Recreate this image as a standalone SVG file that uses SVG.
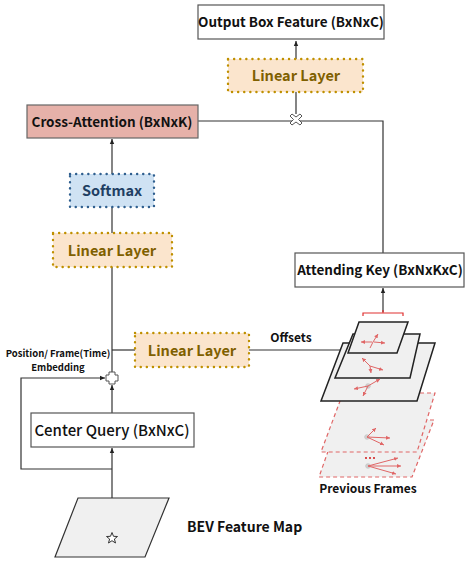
<svg xmlns="http://www.w3.org/2000/svg" width="474" height="561" viewBox="0 0 474 561">
<defs>
<marker id="ah" markerWidth="6" markerHeight="6" refX="5" refY="3" orient="auto" markerUnits="userSpaceOnUse">
<path d="M0,0.8 L5,3 L0,5.2 Z" fill="#222"/>
</marker>
<marker id="rh" markerWidth="5" markerHeight="5" refX="4" refY="2.5" orient="auto" markerUnits="userSpaceOnUse">
<path d="M0,0.5 L4,2.5 L0,4.5 Z" fill="#e06666"/>
</marker>
</defs>
<style>
text{font-family:"Noto Sans CJK KR","Noto Sans",sans-serif;}
.box{fill:#fff;stroke:#555;stroke-width:1.2;}
.lin{fill:#fbe5cd;stroke:#bf9000;stroke-width:2.4;stroke-dasharray:0.1 6;stroke-linecap:round;}
.ltxt{font-size:14.5px;font-weight:700;fill:#7f6000;text-anchor:middle;}
.btxt{font-size:13.5px;font-weight:700;fill:#111;text-anchor:middle;}
.line{fill:none;stroke:#333;stroke-width:1.2;}
.plane{fill:#f0f0f0;stroke:#222;stroke-width:1.5;}
.dplane{fill:#f0f0f0;stroke:#e06666;stroke-width:1.2;stroke-dasharray:4 3;}
.ra{stroke:#e06666;stroke-width:1;fill:none;marker-end:url(#rh);}
.lbl{font-size:12px;font-weight:700;fill:#111;text-anchor:middle;}
</style>

<g id="connectors">
<line class="line" x1="296" y1="59" x2="296" y2="41" marker-end="url(#ah)"/>
<line class="line" x1="296" y1="92" x2="296" y2="114"/>
<polyline class="line" points="198,121 383,121 383,253"/>
<line class="line" x1="112" y1="174" x2="112" y2="139" marker-end="url(#ah)"/>
<line class="line" x1="112" y1="207" x2="112" y2="233"/>
<line class="line" x1="112" y1="267" x2="112" y2="372"/>
<line class="line" x1="112" y1="350" x2="135" y2="350"/>
<line class="line" x1="249" y1="350" x2="340" y2="350"/>
<line class="line" x1="112" y1="413" x2="112" y2="385" marker-end="url(#ah)"/>
<line class="line" x1="112" y1="538" x2="112" y2="448" marker-end="url(#ah)"/>
<polyline class="line" points="112,469 21,469 21,378 105,378" marker-end="url(#ah)"/>
<line class="line" x1="383" y1="312" x2="383" y2="288" marker-end="url(#ah)"/>
</g>

<g id="output-box">
<rect class="box" x="198" y="5" width="186" height="34"/>
<text class="btxt" x="291" y="27">Output Box Feature (BxNxC)</text>
</g>

<g id="linear-top">
<rect class="lin" x="228" y="59" width="135" height="33"/>
<text class="ltxt" x="296" y="81">Linear Layer</text>
</g>

<g id="cross-mult">
<path d="M292,114 L296,117 L300,114 L302,116 L298.5,119.5 L302,123 L300,125 L296,122 L292,125 L290,123 L293.5,119.5 L290,116 Z" fill="#fff" stroke="#555" stroke-width="1"/>
</g>

<g id="cross-attention">
<rect x="27" y="105" width="171" height="33" fill="#e6b1a9" stroke="#666" stroke-width="1.2"/>
<text class="btxt" x="112" y="127">Cross-Attention (BxNxK)</text>
</g>

<g id="softmax">
<rect x="70" y="174" width="84" height="33" fill="#cfe2f3" stroke="#2f5f8f" stroke-width="2.4" stroke-dasharray="0.1 6" stroke-linecap="round"/>
<text x="112" y="196" font-size="14.5" font-weight="700" fill="#1f3f63" text-anchor="middle">Softmax</text>
</g>

<g id="linear-mid">
<rect class="lin" x="53" y="233" width="119" height="34"/>
<text class="ltxt" x="112" y="256">Linear Layer</text>
</g>

<g id="linear-offsets">
<rect class="lin" x="135" y="333" width="114" height="34"/>
<text class="ltxt" x="192" y="356">Linear Layer</text>
</g>

<g id="offsets-label">
<text class="lbl" x="291" y="342">Offsets</text>
</g>

<g id="embedding-label">
<text x="58" y="357" font-size="9.5" font-weight="700" fill="#111" text-anchor="middle">Position/ Frame(Time)</text>
<text x="58" y="371" font-size="9.5" font-weight="700" fill="#111" text-anchor="middle">Embedding</text>
</g>

<g id="plus">
<path d="M109,372 L115,372 L115,375 L118,375 L118,381 L115,381 L115,384 L109,384 L109,381 L106,381 L106,375 L109,375 Z" fill="#fff" stroke="#555" stroke-width="1"/>
</g>

<g id="center-query">
<rect class="box" x="31" y="413" width="163" height="34"/>
<text x="112" y="436" font-size="15" font-weight="500" fill="#111" text-anchor="middle">Center Query (BxNxC)</text>
</g>

<g id="bev-map">
<polygon points="78,498 169,498 145,557 55,557" fill="#f0f0f0" stroke="#333" stroke-width="1.2"/>
<polygon points="112,532.5 113.5,536.3 117.5,536.5 114.4,539 115.5,543 112,540.7 108.5,543 109.6,539 106.5,536.5 110.5,536.3" fill="#fff" stroke="#333" stroke-width="1"/>
<text x="187" y="532" font-size="14" font-weight="700" fill="#111">BEV Feature Map</text>
</g>

<g id="attending-key">
<rect class="box" x="295" y="253" width="169" height="34"/>
<text class="btxt" x="380" y="275">Attending Key (BxNxKxC)</text>
</g>

<g id="previous-frames">
<polygon class="dplane" points="339,420 434,420 412,477 319,477"/>
<polygon class="dplane" points="343,393 435,393 417,452 321,452"/>
<circle cx="366" cy="458" r="0.9" fill="#c00"/><circle cx="370" cy="458" r="0.9" fill="#c00"/><circle cx="374" cy="458" r="0.9" fill="#c00"/>
<g fill="none" stroke="#ccc" stroke-width="1.3">
<path d="M364,437 L370,437 M367,434 L367,440 M365,435 L369,439 M369,435 L365,439"/>
<path d="M365,466 L371,466 M368,463 L368,469 M366,464 L370,468 M370,464 L366,468"/>
</g>
<line class="ra" x1="367" y1="437" x2="390" y2="438"/>
<line class="ra" x1="367" y1="437" x2="384" y2="445"/>
<line class="ra" x1="367" y1="437" x2="376" y2="428"/>
<line class="ra" x1="368" y1="466" x2="398" y2="458"/>
<line class="ra" x1="368" y1="466" x2="401" y2="466"/>
<line class="ra" x1="368" y1="466" x2="396" y2="474"/>
<polygon class="plane" points="343,343 435,343 417,401 321,401"/>
<polygon class="plane" points="353,334 420,334 410,378 335,378"/>
<polygon class="plane" points="359,322 408,322 397,353 348,353"/>
<g fill="none" stroke="#ccc" stroke-width="1.3">
<path d="M365,386 L371,386 M368,383 L368,389 M366,384 L370,388 M370,384 L366,388"/>
</g>
<line class="ra" x1="368" y1="386" x2="380" y2="379"/>
<line class="ra" x1="368" y1="386" x2="354" y2="389"/>
<line class="ra" x1="368" y1="386" x2="363" y2="396"/>
<line class="ra" x1="370" y1="366" x2="362" y2="358"/>
<line class="ra" x1="370" y1="366" x2="383" y2="370"/>
<line class="ra" x1="370" y1="366" x2="371" y2="373"/>
<line class="ra" x1="372" y1="342" x2="361" y2="342"/>
<line class="ra" x1="374" y1="342" x2="385" y2="343"/>
<line class="ra" x1="373" y1="342" x2="378" y2="334"/>
<line x1="373" y1="342" x2="370" y2="348" stroke="#e06666" stroke-width="1"/>
<path d="M363,316 L363,313 L403,313 L403,316 M383,313 L383,310" fill="none" stroke="#e03030" stroke-width="1.2"/>
<text class="lbl" x="368" y="493">Previous Frames</text>
</g>
</svg>
